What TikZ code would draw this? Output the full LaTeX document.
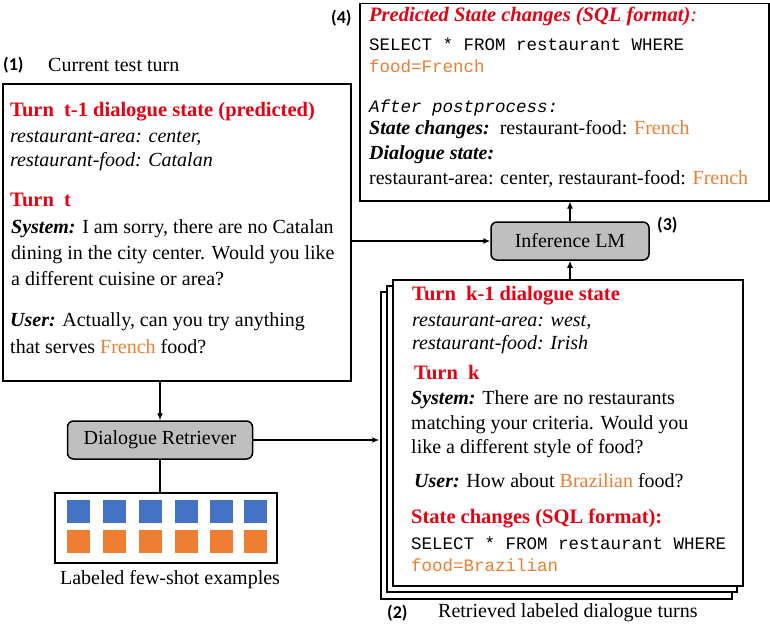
\documentclass[tikz,border=0pt]{standalone}
\usepackage{fontspec}
\setmainfont{Liberation Serif}
\setmonofont{Liberation Mono}
\newfontfamily\lblfont{Carlito}
\usetikzlibrary{arrows.meta}
\definecolor{myred}{RGB}{230,0,18}
\definecolor{myorange}{RGB}{237,125,49}
\definecolor{myblue}{RGB}{68,114,196}
\definecolor{mygray}{RGB}{191,191,191}
\newcommand{\org}[1]{\textcolor{myorange}{#1}}
\begin{document}
\begin{tikzpicture}[x=1pt,y=-1pt,
  t/.style={anchor=west,inner sep=0pt,font=\fontsize{20}{22}\selectfont},
  ti/.style={t,font=\fontsize{20}{22}\selectfont\itshape},
  tm/.style={anchor=west,inner sep=0pt,font=\fontsize{17.5}{20}\ttfamily},
  rd/.style={t,text=myred,font=\fontsize{20.5}{22}\selectfont\bfseries},
  lbl/.style={anchor=west,inner sep=0pt,font=\fontsize{18}{20}\lblfont\bfseries},
  box/.style={draw,line width=1.5pt},
  gbox/.style={draw,line width=1.5pt,fill=mygray,rounded corners=6pt},
  arr/.style={line width=1.7pt,-{Latex[length=7pt,width=6pt]}},
  sq/.style={minimum width=23pt,minimum height=23pt,inner sep=0pt}]
\useasboundingbox (0,0) rectangle (770,626);
% top box
\node[box,minimum width=409pt,minimum height=197pt,anchor=north west,inner sep=0pt] (top) at (359,3) {};
\node[lbl] (l4) at (331,18) {(4)};
\node[t,font=\fontsize{20.5}{22}\selectfont\bfseries\itshape,text=myred] (p1) at (369,16) {Predicted State changes (SQL format)\textmd{\textcolor{myred}{:}}};
\node[tm] (p2) at (369,44) {SELECT * FROM restaurant WHERE};
\node[tm,text=myorange] (p3) at (369,66) {food=French};
\node[tm,font=\fontsize{17.5}{20}\ttfamily\itshape] (p4) at (369,108) {After postprocess:};
\node[t] (p5) at (369,130) {\textbf{\textit{State changes:}}\ \ restaurant-food: \org{French}};
\node[t] (p6) at (369,155) {\textbf{\textit{Dialogue state:}}};
\node[t] (p7) at (369,179) {restaurant-area: center,\ restaurant-food: \org{French}};
% left box
\node[lbl] (l1) at (3,65) {(1)};
\node[t] (ct) at (48,65) {Current test turn};
\node[box,minimum width=348pt,minimum height=297pt,anchor=north west,inner sep=0pt] (left) at (2,83) {};
\node[rd] (a1) at (10,112) {Turn\ \ t-1 dialogue state (predicted)};
\node[ti] (a2) at (10,138) {restaurant-area: center,};
\node[ti] (a3) at (10,162) {restaurant-food: Catalan};
\node[rd] (a4) at (10,200) {Turn\ \ t};
\node[t] (a5) at (11,229) {\textbf{\textit{System:}} I am sorry, there are no Catalan};
\node[t] (a6) at (11,255) {dining in the city center. Would you like};
\node[t] (a7) at (11,279) {a different cuisine or area?};
\node[t] (a8) at (10,322) {\textbf{\textit{User:}} Actually, can you try anything};
\node[t] (a9) at (10,347) {that serves \org{French} food?};
% inference LM
\node[gbox,minimum width=158pt,minimum height=38pt,font=\fontsize{20}{22}\selectfont] (lm) at (570,241) {Inference LM};
\node[lbl] (l3) at (657,225) {(3)};
% retriever
\node[gbox,minimum width=185pt,minimum height=38pt,font=\fontsize{20}{22}\selectfont] (ret) at (160,440) {Dialogue Retriever};
\node[box,line width=1.2pt,minimum width=222pt,minimum height=70pt,inner sep=0pt] (ex) at (166,528) {};
\foreach \i/\x in {1/78,2/114,3/150,4/186,5/221,6/255}{
  \node[sq,fill=myblue] (b\i) at (\x,511) {};
  \node[sq,fill=myorange] (o\i) at (\x,541) {};
}
\node[font=\fontsize{20}{22}\selectfont,inner sep=0pt] (exl) at (170,580) {Labeled few-shot examples};
% stack
\draw[line width=1.5pt,fill=white] (381,292) rectangle (732,599);
\draw[line width=1.5pt,fill=white] (387,286) rectangle (737,592);
\node[box,fill=white,minimum width=350pt,minimum height=306pt,anchor=north west,inner sep=0pt] (st) at (392,279) {};
\node[rd] (k1) at (412,296) {Turn\ \ k-1 dialogue state};
\node[ti] (k2) at (412,322) {restaurant-area: west,};
\node[ti] (k3) at (412,345) {restaurant-food: Irish};
\node[rd] (k4) at (414,373) {Turn\ \ k};
\node[t] (k5) at (411,400) {\textbf{\textit{System:}} There are no restaurants};
\node[t] (k6) at (411,425) {matching your criteria. Would you};
\node[t] (k7) at (411,449) {like a different style of food?};
\node[t] (k8) at (414,481) {\textbf{\textit{User:}} How about \org{Brazilian} food?};
\node[rd] (k9) at (411,519) {State changes (SQL format):};
\node[tm] (k10) at (411,543) {SELECT * FROM restaurant WHERE};
\node[tm,text=myorange] (k11) at (411,565) {food=Brazilian};
\node[lbl] (l2) at (387,613) {(2)};
\node[t] (rl) at (438,613) {Retrieved labeled dialogue turns};
% connectors
\draw[arr] (left.east |- lm) -- (lm.west);
\draw[arr] (lm.north) -- (lm.north |- top.south);
\draw[arr] (lm.south |- st.north) -- (lm.south);
\draw[arr] (left.south -| ret) -- (ret.north);
\draw[arr] (ret.east) -- ++(126,0) coordinate (stk);
\draw[line width=1.5pt] (ret.south) -- (ret.south |- ex.north);
\end{tikzpicture}
\end{document}
